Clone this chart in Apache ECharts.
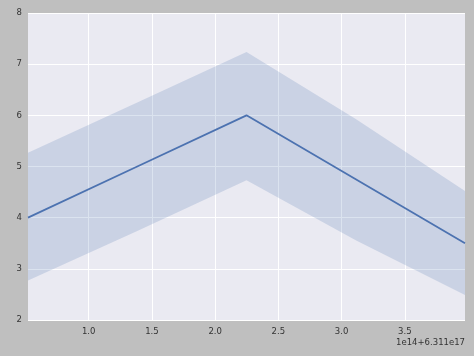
<!DOCTYPE html>
<html>
<head>
<meta charset="utf-8">
<script src="https://cdn.jsdelivr.net/npm/echarts@6/dist/echarts.min.js"></script>
<style>
html,body{margin:0;padding:0;background:#BFBFBF;}
#c{width:474px;height:356px;}
</style>
</head>
<body>
<div id="c"></div>
<script>
// x positions in units of 1e14 (offset 6.311e17 ns)
var xValues = [0.52, 1.384, 2.248, 3.112, 3.976];
var lineValues = [4.0, 5.0, 6.0, 4.75, 3.5];
var upperValues = [5.27, 6.25, 7.24, 5.93, 4.52];
var lowerValues = [2.77, 3.74, 4.73, 3.56, 2.49];
var xTickLabels = [1.0, 1.5, 2.0, 2.5, 3.0, 3.5];
var yTicks = [2, 3, 4, 5, 6, 7, 8];
var offsetText = '1e14+6.311e17';

var chart = echarts.init(document.getElementById('c'), null, {renderer: 'canvas'});
var bandData = xValues.map(function (x, i) { return [x, lowerValues[i], upperValues[i]]; });
var lineData = xValues.map(function (x, i) { return [x, lineValues[i]]; });

var font = 'DejaVu Sans';
var fs = 8.5;
chart.setOption({
  backgroundColor: '#BFBFBF',
  animation: false,
  grid: {left: 28, right: 9, top: 13, bottom: 36, show: true, backgroundColor: '#EAEAF2', borderWidth: 0},
  xAxis: {
    type: 'value',
    min: xValues[0], max: xValues[xValues.length - 1],
    axisLine: {show: false},
    axisTick: {show: false, customValues: xTickLabels},
    axisLabel: {customValues: xTickLabels, color: '#333', fontFamily: font, fontSize: fs, margin: 7,
      formatter: function (v) { return v.toFixed(1); }},
    splitLine: {show: true, lineStyle: {color: '#FFFFFF', width: 1}}
  },
  yAxis: {
    type: 'value', min: yTicks[0], max: yTicks[yTicks.length - 1], interval: 1,
    axisLine: {show: false}, axisTick: {show: false},
    axisLabel: {color: '#333', fontFamily: font, fontSize: fs, margin: 6},
    splitLine: {show: true, lineStyle: {color: '#FFFFFF', width: 1}}
  },
  graphic: [{
    type: 'text', right: 9, top: 338,
    style: {text: offsetText, fill: '#333', font: fs + 'px "DejaVu Sans"'}
  }],
  series: [
    {
      type: 'custom', data: bandData, silent: true, z: 1,
      encode: {x: 0, y: [1, 2]},
      renderItem: function (params, api) {
        if (params.dataIndex !== 0) return null;
        var top = [], bottom = [];
        for (var i = 0; i < bandData.length; i++) {
          top.push(api.coord([bandData[i][0], bandData[i][2]]));
          bottom.push(api.coord([bandData[i][0], bandData[i][1]]));
        }
        var pts = top.concat(bottom.reverse());
        return {
          type: 'polygon',
          shape: {points: pts},
          style: {fill: 'rgba(76,114,176,0.2)'}
        };
      }
    },
    {type: 'line', data: lineData, symbol: 'none', lineStyle: {color: '#4C72B0', width: 1.8}, z: 3}
  ]
});
</script>
</body>
</html>
